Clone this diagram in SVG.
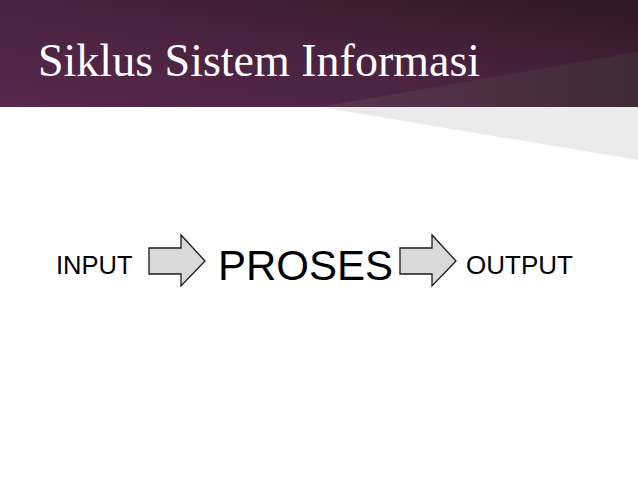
<svg xmlns="http://www.w3.org/2000/svg" width="638" height="478" viewBox="0 0 638 478">
<defs>
<linearGradient id="hg" x1="0" y1="1" x2="1" y2="0">
<stop offset="0" stop-color="#57284c"/>
<stop offset="0.5" stop-color="#4a2340"/>
<stop offset="1" stop-color="#2e1827"/>
</linearGradient>
<linearGradient id="lg" x1="0" y1="0" x2="1" y2="0">
<stop offset="0" stop-color="#5a3450"/>
<stop offset="1" stop-color="#3e2b38"/>
</linearGradient>
<style>
.arr{fill:#d9d9d9;stroke:#1a1a1a;stroke-width:1.3}
.t{font-family:"Liberation Sans",Arial,sans-serif;fill:#000}
</style>
</defs>
<rect width="638" height="478" fill="#fff"/>
<rect width="638" height="107" fill="url(#hg)"/>
<polygon points="320,107 638,52 638,107" fill="url(#lg)"/>
<polygon points="320,107 638,107 638,160" fill="#ebebeb"/>
<text x="38" y="76" font-family="'Liberation Serif','Times New Roman',serif" font-size="46" fill="#fff">Siklus Sistem Informasi</text>
<g id="input"><text class="t" x="56" y="274" font-size="25.5">INPUT</text></g>
<g id="proses"><text class="t" x="218" y="280" font-size="42">PROSES</text></g>
<g id="output"><text class="t" x="466" y="274" font-size="26">OUTPUT</text></g>
<g id="connectors">
<polygon class="arr" points="149,248 181,248 181,235 205,261 181,286 181,274 149,274"/>
<polygon class="arr" points="400,248 432,248 432,235 456,261 432,286 432,274 400,274"/>
</g>
</svg>
